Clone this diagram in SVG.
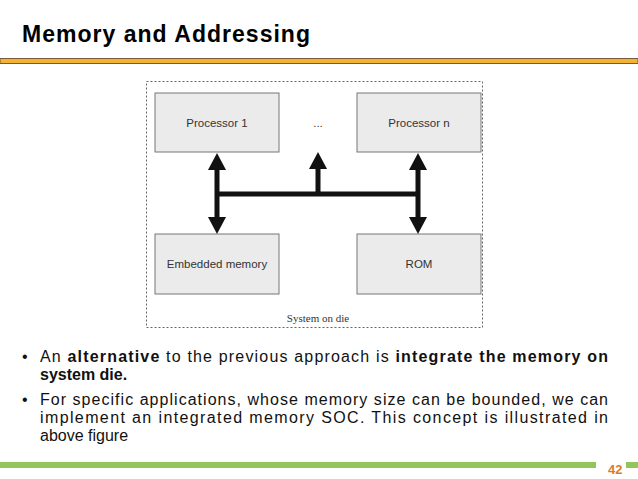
<svg xmlns="http://www.w3.org/2000/svg" width="638" height="479" viewBox="0 0 638 479">
<style>
.box{fill:#ebebeb;stroke:#777;stroke-width:1}
.lbl{font-family:"Liberation Sans",Arial,sans-serif;font-size:11.5px;fill:#333;text-anchor:middle}
.body{font-family:"Liberation Sans",Arial,sans-serif;font-size:16px;fill:#111}
.bus{stroke:#111;stroke-width:5;fill:none}
.hd{fill:#111}
</style>
<rect width="638" height="479" fill="#fff"/>
<text x="22" y="42" font-family="Liberation Sans,Arial,sans-serif" font-size="23" font-weight="bold" fill="#000" textLength="288">Memory and Addressing</text>
<rect x="0" y="58.5" width="638" height="5" fill="#f2b233" stroke="#7a5a3a" stroke-width="1"/>
<rect x="146.5" y="81.5" width="336" height="246" fill="none" stroke="#666" stroke-dasharray="2,2"/>
<g id="p1"><rect class="box" x="155" y="93" width="124" height="59"/><text class="lbl" x="217" y="127">Processor 1</text></g>
<g id="dots"><text class="lbl" x="318" y="127">...</text></g>
<g id="pn"><rect class="box" x="357" y="93" width="124" height="59"/><text class="lbl" x="419" y="127">Processor n</text></g>
<g id="em"><rect class="box" x="155" y="234" width="124" height="60"/><text class="lbl" x="217" y="268">Embedded memory</text></g>
<g id="rom"><rect class="box" x="357" y="234" width="124" height="60"/><text class="lbl" x="419" y="268">ROM</text></g>
<text x="318" y="322" font-family="Liberation Serif,serif" font-size="11" fill="#333" text-anchor="middle">System on die</text>
<g id="connectors">
<path class="bus" d="M217 194H418M217 168V220M418 168V220M318 194V168"/>
<polygon class="hd" points="217,153 208,170 226,170"/>
<polygon class="hd" points="217,234 208,217 226,217"/>
<polygon class="hd" points="418,153 409,170 427,170"/>
<polygon class="hd" points="418,234 409,217 427,217"/>
<polygon class="hd" points="318,152 309,169 327,169"/>
</g>
<g class="body">
<text x="22" y="362">•</text>
<text x="40" y="362" textLength="568">An <tspan font-weight="bold">alternative</tspan> to the previous approach is <tspan font-weight="bold">integrate the memory on</tspan></text>
<text x="40" y="380" font-weight="bold">system die.</text>
<text x="22" y="405">•</text>
<text x="40" y="405" textLength="568">For specific applications, whose memory size can be bounded, we can</text>
<text x="40" y="423" textLength="568">implement an integrated memory SOC. This concept is illustrated in</text>
<text x="40" y="441">above figure</text>
</g>
<rect x="0" y="462" width="596" height="6" fill="#92c65a"/>
<text x="608" y="474" font-family="Liberation Sans,Arial,sans-serif" font-size="13" font-weight="bold" fill="#e07a2a">42</text>
<rect x="626" y="462" width="12" height="6" fill="#92c65a"/>
</svg>
